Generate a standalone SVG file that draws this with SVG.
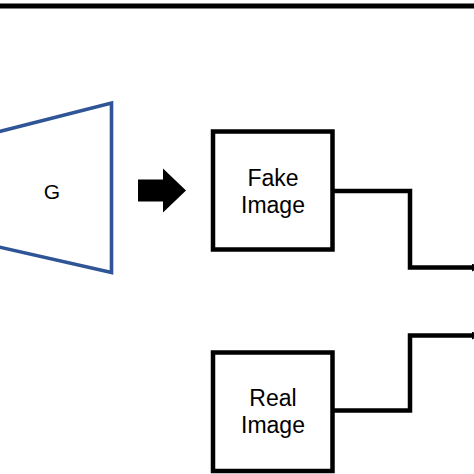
<svg xmlns="http://www.w3.org/2000/svg" width="474" height="474" viewBox="0 0 474 474">
<style>
.box{fill:#fff;stroke:#000;stroke-width:4.5}
.lbl{font-family:"Liberation Sans",Arial,sans-serif;font-size:23px;fill:#000;text-anchor:middle}
.glbl{font-family:"Liberation Sans",Arial,sans-serif;font-size:21px;fill:#000;text-anchor:middle}
.conn{fill:none;stroke:#000;stroke-width:4.5;stroke-linejoin:miter}
</style>
<defs>
<marker id="ah" markerWidth="8" markerHeight="8" refX="0" refY="4" orient="auto" markerUnits="userSpaceOnUse">
<path d="M0,0 L8,4 L0,8 Z" fill="#000"/>
</marker>
</defs>
<rect width="474" height="474" fill="#fff"/>
<line x1="0" y1="6" x2="474" y2="6" stroke="#000" stroke-width="4.8"/>
<g id="G">
<path d="M-10,134 L111.5,103 L111.5,272.5 L-10,245" fill="none" stroke="#2F5597" stroke-width="3.6"/>
<text x="52" y="199" class="glbl">G</text>
</g>
<g id="arrow">
<path d="M138,179.5 L163,179.5 L163,168.5 L186,190.5 L163,212.5 L163,201.5 L138,201.5 Z" fill="#000"/>
</g>
<g id="fake">
<rect class="box" x="213" y="131.5" width="119.5" height="118"/>
<text class="lbl" x="273" y="186">Fake</text>
<text class="lbl" x="273" y="213">Image</text>
</g>
<g id="real">
<rect class="box" x="213" y="352.5" width="119.5" height="118.5"/>
<text class="lbl" x="273" y="406">Real</text>
<text class="lbl" x="273" y="433">Image</text>
</g>
<g id="connectors">
<path class="conn" d="M332.5,191 H410 V267.5 H472" marker-end="url(#ah)"/>
<path class="conn" d="M332.5,410.5 H410 V335.5 H472" marker-end="url(#ah)"/>
</g>
</svg>
